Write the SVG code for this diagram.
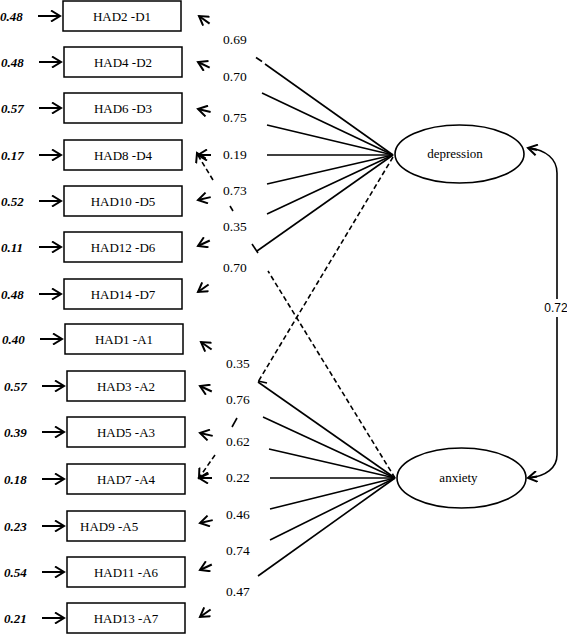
<svg xmlns="http://www.w3.org/2000/svg" width="567" height="634" viewBox="0 0 567 634">
<defs>
<marker id="ah" viewBox="0 0 12 12" refX="10" refY="6" markerWidth="12" markerHeight="12" markerUnits="userSpaceOnUse" orient="auto">
<path d="M1,0.5 L10,6 L1,11.5" fill="none" stroke="#000" stroke-width="2"/>
</marker>
<style>
.box{fill:#fff;stroke:#000;stroke-width:1.5}
.lbl{font-size:13px;fill:#000;text-anchor:middle}
.err{font-size:13px;font-weight:bold;font-style:italic;fill:#000}
.num{font-size:13.5px;fill:#000}
.ln{stroke:#000;stroke-width:1.6;fill:none}
.dl{stroke:#000;stroke-width:1.6;fill:none;stroke-dasharray:5,3}
.ar{stroke:#000;stroke-width:2;fill:none;marker-end:url(#ah)}
.ell{fill:#fff;stroke:#000;stroke-width:1.6}
</style>
</defs>
<rect width="567" height="634" fill="#fff"/>

<g id="connectors" font-family="Liberation Serif, Times New Roman, serif">
<line class="ar" x1="38" y1="16" x2="60" y2="16"/>
<line class="ar" x1="39" y1="62" x2="61" y2="62"/>
<line class="ar" x1="39" y1="108" x2="61" y2="108"/>
<line class="ar" x1="39" y1="155" x2="61" y2="155"/>
<line class="ar" x1="39" y1="201" x2="61" y2="201"/>
<line class="ar" x1="39" y1="247" x2="61" y2="247"/>
<line class="ar" x1="39" y1="294" x2="61" y2="294"/>
<line class="ar" x1="40" y1="339" x2="62" y2="339"/>
<line class="ar" x1="42" y1="386" x2="64" y2="386"/>
<line class="ar" x1="42" y1="432" x2="64" y2="432"/>
<line class="ar" x1="42" y1="479" x2="64" y2="479"/>
<line class="ar" x1="42" y1="526" x2="64" y2="526"/>
<line class="ar" x1="42" y1="572" x2="64" y2="572"/>
<line class="ar" x1="42" y1="618" x2="64" y2="618"/>

<line class="ln" x1="256" y1="57.5" x2="262" y2="61.5"/>
<line class="ln" x1="265" y1="64" x2="393" y2="155"/>
<line class="ln" x1="262" y1="93" x2="393" y2="155"/>
<line class="ln" x1="267" y1="125" x2="393" y2="155"/>
<line class="ln" x1="267" y1="155" x2="393" y2="155"/>
<line class="ln" x1="267" y1="184" x2="393" y2="155"/>
<line class="ln" x1="267" y1="214" x2="393" y2="155"/>
<line class="ln" x1="257" y1="251" x2="393" y2="155"/>

<line class="ar" x1="209.6" y1="23.6" x2="199" y2="16"/>
<line class="ar" x1="209.7" y1="67.6" x2="198" y2="62"/>
<line class="ar" x1="210.6" y1="112" x2="198" y2="109"/>
<line class="ar" x1="211" y1="155" x2="198" y2="155"/>
<line class="ar" x1="210.7" y1="197.1" x2="198" y2="200"/>
<line class="ar" x1="209.8" y1="240.5" x2="198" y2="246"/>
<line class="ar" x1="208.6" y1="284.5" x2="198" y2="292"/>

<line class="ln" x1="258" y1="382" x2="395" y2="478"/>
<line class="ln" x1="263" y1="417" x2="395" y2="478"/>
<line class="ln" x1="269" y1="449" x2="395" y2="478"/>
<line class="ln" x1="270" y1="478" x2="395" y2="478"/>
<line class="ln" x1="270" y1="509" x2="395" y2="478"/>
<line class="ln" x1="270" y1="540" x2="395" y2="478"/>
<line class="ln" x1="258" y1="576" x2="395" y2="478"/>

<line class="ar" x1="211.6" y1="349.5" x2="201" y2="342"/>
<line class="ar" x1="211.8" y1="391.5" x2="200" y2="386"/>
<line class="ar" x1="212.7" y1="435.9" x2="200" y2="433"/>
<line class="ar" x1="212" y1="478" x2="199" y2="478"/>
<line class="ar" x1="212.7" y1="520.1" x2="200" y2="523"/>
<line class="ar" x1="211.8" y1="564.5" x2="200" y2="570"/>
<line class="ar" x1="210.6" y1="609.5" x2="200" y2="617"/>

<line class="dl" x1="395" y1="478" x2="268" y2="271"/>
<line class="ln" x1="258" y1="253" x2="252" y2="244"/>
<line class="ln" x1="233" y1="211" x2="230" y2="206"/>
<line class="dl" x1="213" y1="180" x2="199" y2="157"/>
<line class="ar" x1="199" y1="157" x2="197" y2="153"/>

<line class="dl" x1="393" y1="157" x2="258" y2="382"/>
<line class="ln" x1="258" y1="381" x2="267" y2="383"/>
<line class="ln" x1="237" y1="418" x2="232" y2="427"/>
<line class="dl" x1="215" y1="455" x2="201" y2="475"/>
<line class="ar" x1="201" y1="475" x2="199" y2="478"/>

<path class="ln" d="M529,148 C546,150 557,159 557,173 L557,455 C557,468 546,476 529,478"/>
<line class="ar" x1="537" y1="150" x2="528" y2="148"/>
<line class="ar" x1="537" y1="476.5" x2="528" y2="478"/>
<rect x="545" y="299" width="22" height="18" fill="#fff"/>
<text x="556" y="312" font-family="Liberation Sans, Arial, sans-serif" font-size="12" text-anchor="middle">0.72</text>

<text class="num" x="223" y="44">0.69</text>
<text class="num" x="223" y="81">0.70</text>
<text class="num" x="223" y="122">0.75</text>
<text class="num" x="223" y="159">0.19</text>
<text class="num" x="223" y="195">0.73</text>
<text class="num" x="223" y="231">0.35</text>
<text class="num" x="223" y="272">0.70</text>
<text class="num" x="226" y="368">0.35</text>
<text class="num" x="226" y="404">0.76</text>
<text class="num" x="226" y="446">0.62</text>
<text class="num" x="226" y="482">0.22</text>
<text class="num" x="226" y="519">0.46</text>
<text class="num" x="226" y="555">0.74</text>
<text class="num" x="226" y="596">0.47</text>
</g>

<g id="err" font-family="Liberation Serif, Times New Roman, serif">
<text class="err" x="0" y="21">0.48</text>
<text class="err" x="1" y="67">0.48</text>
<text class="err" x="1" y="113">0.57</text>
<text class="err" x="1" y="160">0.17</text>
<text class="err" x="1" y="206">0.52</text>
<text class="err" x="1" y="252">0.11</text>
<text class="err" x="1" y="299">0.48</text>
<text class="err" x="2" y="344">0.40</text>
<text class="err" x="4" y="391">0.57</text>
<text class="err" x="4" y="437">0.39</text>
<text class="err" x="4" y="484">0.18</text>
<text class="err" x="4" y="531">0.23</text>
<text class="err" x="4" y="577">0.54</text>
<text class="err" x="4" y="623">0.21</text>
</g>

<g font-family="Liberation Serif, Times New Roman, serif">
<g id="HAD2"><rect class="box" x="63" y="1" width="118" height="30"/><text class="lbl" x="122" y="21">HAD2 -D1</text></g>
<g id="HAD4"><rect class="box" x="64" y="47" width="118" height="30"/><text class="lbl" x="123" y="67">HAD4 -D2</text></g>
<g id="HAD6"><rect class="box" x="64" y="93" width="118" height="30"/><text class="lbl" x="123" y="113">HAD6 -D3</text></g>
<g id="HAD8"><rect class="box" x="64" y="140" width="118" height="30"/><text class="lbl" x="123" y="160">HAD8 -D4</text></g>
<g id="HAD10"><rect class="box" x="64" y="186" width="118" height="30"/><text class="lbl" x="123" y="206">HAD10 -D5</text></g>
<g id="HAD12"><rect class="box" x="64" y="232" width="118" height="30"/><text class="lbl" x="123" y="252">HAD12 -D6</text></g>
<g id="HAD14"><rect class="box" x="64" y="279" width="118" height="30"/><text class="lbl" x="123" y="299">HAD14 -D7</text></g>
<g id="HAD1"><rect class="box" x="65" y="324" width="118" height="30"/><text class="lbl" x="124" y="344">HAD1 -A1</text></g>
<g id="HAD3"><rect class="box" x="67" y="371" width="118" height="30"/><text class="lbl" x="126" y="391">HAD3 -A2</text></g>
<g id="HAD5"><rect class="box" x="67" y="417" width="118" height="30"/><text class="lbl" x="126" y="437">HAD5 -A3</text></g>
<g id="HAD7"><rect class="box" x="67" y="464" width="118" height="30"/><text class="lbl" x="126" y="484">HAD7 -A4</text></g>
<g id="HAD9"><rect class="box" x="67" y="511" width="118" height="30"/><text class="lbl" x="80" y="531" style="text-anchor:start">HAD9 -A5</text></g>
<g id="HAD11"><rect class="box" x="67" y="557" width="118" height="30"/><text class="lbl" x="126" y="577">HAD11 -A6</text></g>
<g id="HAD13"><rect class="box" x="67" y="603" width="118" height="30"/><text class="lbl" x="126" y="623">HAD13 -A7</text></g>

<g id="depression"><ellipse class="ell" cx="459.5" cy="154" rx="64.5" ry="29"/><text class="lbl" x="455" y="158">depression</text></g>
<g id="anxiety"><ellipse class="ell" cx="461.5" cy="478" rx="64.5" ry="30"/><text class="lbl" x="458.5" y="482">anxiety</text></g>
</g>
</svg>
